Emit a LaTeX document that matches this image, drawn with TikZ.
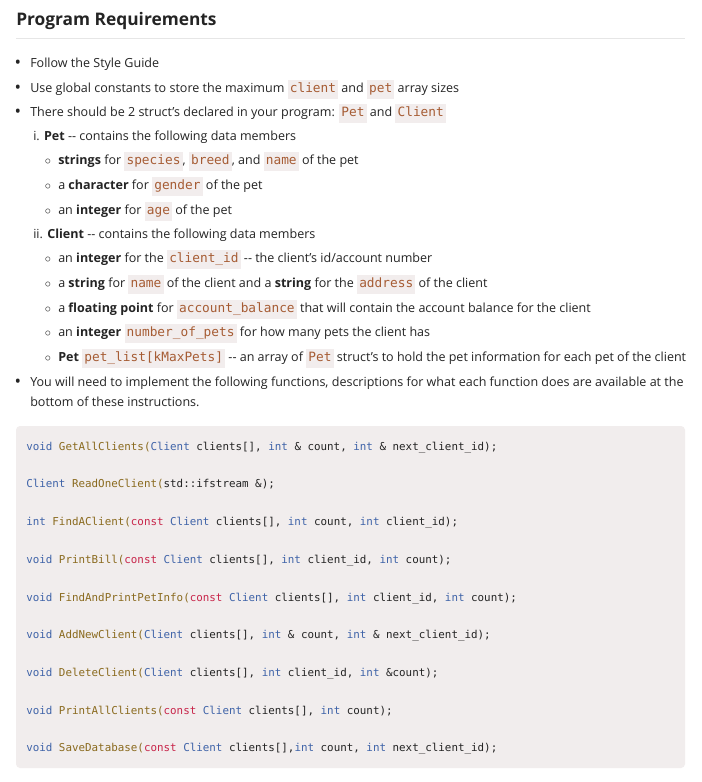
\documentclass[tikz,border=0pt]{standalone}
\usepackage{fontspec}
\setmainfont{Open Sans}
\setmonofont{DejaVu Sans Mono}
\definecolor{txt}{HTML}{242424}
\definecolor{icbg}{HTML}{F2EDED}
\definecolor{iccol}{HTML}{A65C34}
\definecolor{cbg}{HTML}{F1EDED}
\definecolor{kwc}{HTML}{3F63A8}
\definecolor{fnc}{HTML}{8A6A1E}
\definecolor{cnc}{HTML}{C8254A}
\definecolor{rulec}{HTML}{E6E6E6}
\newcommand\ic[1]{{\setlength\fboxsep{1.6pt}\colorbox{icbg}{\strut\ttfamily\fontsize{9.6}{11}\selectfont\color{iccol}#1}}}
\newcommand\kw[1]{{\color{kwc}#1}}
\newcommand\fn[1]{{\color{fnc}#1}}
\newcommand\cn[1]{{\color{cnc}#1}}
\newcommand\dd{-{}-}
\newcommand\bul{{\fontsize{13}{13}\selectfont\textbullet}}
\newcommand\cir{$\circ$}
\begin{document}
\begin{tikzpicture}[x=0.75pt,y=-0.75pt,
  body/.style={anchor=base west,inner sep=0,text=txt,font=\fontsize{9.4}{11}\selectfont},
  code/.style={anchor=base west,inner sep=0,text=txt,font=\ttfamily\fontsize{8.15}{10}\selectfont},
  mark1/.style={anchor=base,inner sep=0,text=txt,font=\fontsize{9.4}{11}\selectfont}]
\useasboundingbox[fill=white] (0,0) rectangle (702,782);
\node[anchor=base west,inner sep=0,font=\bfseries\fontsize{13}{16}\selectfont,text=txt] (title) at (16,25) {Program Requirements};
\draw[rulec,line width=0.75pt] (16,38) -- (685,38);
% top bullets
\node[mark1] (b1) at (18,68) {\bul};
\node[body] (l1) at (30,67) {Follow the Style Guide};
\node[mark1] (b2) at (18,93) {\bul};
\node[body] (l2) at (30,92) {Use global constants to store the maximum \ic{client} and \ic{pet} array sizes};
\node[mark1] (b3) at (18,117) {\bul};
\node[body] (l3) at (30,116) {There should be 2 struct's declared in your program: \ic{Pet} and \ic{Client}};
\node[body] (p) at (33,140) {i. \textbf{Pet} \dd{} contains the following data members};
\node[mark1] (c1) at (48,164) {\cir};
\node[body] (p1) at (58,164) {\textbf{strings} for \ic{species}, \ic{breed}, and \ic{name} of the pet};
\node[mark1] (c2) at (48,189) {\cir};
\node[body] (p2) at (58,189) {a \textbf{character} for \ic{gender} of the pet};
\node[mark1] (c3) at (48,214) {\cir};
\node[body] (p3) at (58,214) {an \textbf{integer} for \ic{age} of the pet};
\node[body] (c) at (33,238) {ii. \textbf{Client} \dd{} contains the following data members};
\node[mark1] (d1) at (48,262) {\cir};
\node[body] (q1) at (58,262) {an \textbf{integer} for the \ic{client\_id} \dd{} the client's id/account number};
\node[mark1] (d2) at (48,287) {\cir};
\node[body] (q2) at (58,287) {a \textbf{string} for \ic{name} of the client and a \textbf{string} for the \ic{address} of the client};
\node[mark1] (d3) at (48,312) {\cir};
\node[body] (q3) at (58,312) {a \textbf{floating point} for \ic{account\_balance} that will contain the account balance for the client};
\node[mark1] (d4) at (48,336) {\cir};
\node[body] (q4) at (58,336) {an \textbf{integer} \ic{number\_of\_pets} for how many pets the client has};
\node[mark1] (d5) at (48,361) {\cir};
\node[body] (q5) at (58,361) {\textbf{Pet} \ic{pet\_list[kMaxPets]} \dd{} an array of \ic{Pet} struct's to hold the pet information for each pet of the client};
\node[mark1] (b4) at (18,387) {\bul};
\node[body] (l4) at (30,386) {You will need to implement the following functions, descriptions for what each function does are available at the};
\node[body] (l5) at (30,406) {bottom of these instructions.};
% code block
\fill[cbg,rounded corners=3pt] (16,426) rectangle (685,768);
\node[code] (f1) at (26,450) {\kw{void} \fn{GetAllClients(}\kw{Client} clients[], \kw{int} \& count, \kw{int} \& next\_client\_id);};
\node[code] (f2) at (26,487) {\kw{Client} \fn{ReadOneClient(}std::ifstream \&);};
\node[code] (f3) at (26,525) {\kw{int} \fn{FindAClient(}\cn{const} \kw{Client} clients[], \kw{int} count, \kw{int} client\_id);};
\node[code] (f4) at (26,563) {\kw{void} \fn{PrintBill(}\cn{const} \kw{Client} clients[], \kw{int} client\_id, \kw{int} count);};
\node[code] (f5) at (26,601) {\kw{void} \fn{FindAndPrintPetInfo(}\cn{const} \kw{Client} clients[], \kw{int} client\_id, \kw{int} count);};
\node[code] (f6) at (26,638) {\kw{void} \fn{AddNewClient(}\kw{Client} clients[], \kw{int} \& count, \kw{int} \& next\_client\_id);};
\node[code] (f7) at (26,676) {\kw{void} \fn{DeleteClient(}\kw{Client} clients[], \kw{int} client\_id, \kw{int} \&count);};
\node[code] (f8) at (26,714) {\kw{void} \fn{PrintAllClients(}\cn{const} \kw{Client} clients[], \kw{int} count);};
\node[code] (f9) at (26,751) {\kw{void} \fn{SaveDatabase(}\cn{const} \kw{Client} clients[],\kw{int} count, \kw{int} next\_client\_id);};
\end{tikzpicture}
\end{document}
